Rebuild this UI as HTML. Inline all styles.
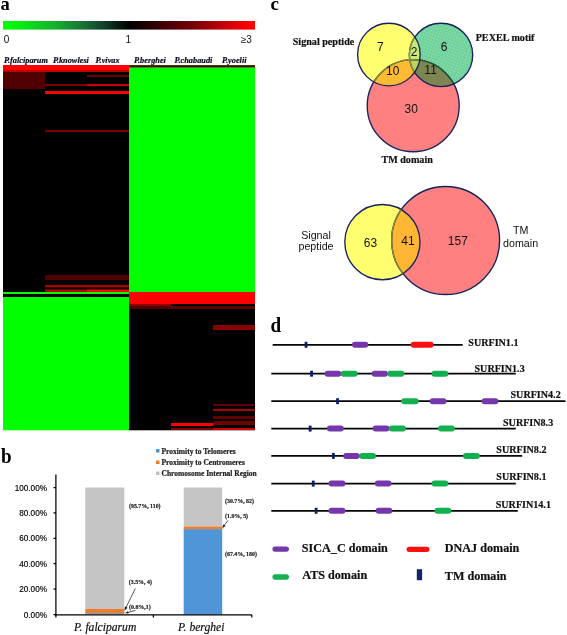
<!DOCTYPE html>
<html><head><meta charset="utf-8"><title>Figure</title>
<style>
html,body{margin:0;padding:0;background:#fff;}
svg{display:block;}
.bs{font-family:"Liberation Serif",serif;font-weight:bold;}
.bis{font-family:"Liberation Serif",serif;font-weight:bold;font-style:italic;}
.is{font-family:"Liberation Serif",serif;font-style:italic;}
.sa{font-family:"Liberation Sans",sans-serif;}
</style></head>
<body>
<svg width="567" height="635" viewBox="0 0 567 635">
<defs>
<linearGradient id="sc" x1="0" x2="1" y1="0" y2="0">
<stop offset="0" stop-color="#00ff00"/>
<stop offset="0.05" stop-color="#04f408"/>
<stop offset="0.2" stop-color="#14b42c"/>
<stop offset="0.3" stop-color="#1a7c36"/>
<stop offset="0.4" stop-color="#10402a"/>
<stop offset="0.5" stop-color="#000000"/>
<stop offset="0.75" stop-color="#740008"/>
<stop offset="0.9" stop-color="#d40008"/>
<stop offset="0.98" stop-color="#ff0000"/>
<stop offset="1" stop-color="#ff0000"/>
</linearGradient>
<pattern id="gd" width="3" height="3" patternUnits="userSpaceOnUse" patternTransform="rotate(20)">
<rect width="3" height="3" fill="#72d29e"/><rect x="1" y="1" width="1" height="1" fill="#98e8b0"/>
</pattern>
</defs>
<rect width="567" height="635" fill="#fff"/>

<!-- panel a -->
<g id="pa">
<text transform="translate(0.6 10) scale(0.97 1)" class="bs" font-size="19.2">a</text>
<rect x="3" y="21" width="252" height="8.6" fill="url(#sc)"/>
<g class="sa" font-size="10" fill="#111">
<text x="3.8" y="43.4">0</text>
<text x="125.5" y="43.4">1</text>
<text x="240.7" y="43.4">≥3</text>
</g>
<g class="bis" font-size="8.3" fill="#0a0a20" stroke="#0a0a20" stroke-width="0.2">
<text x="4" y="62.5">P.falciparum</text>
<text x="52.9" y="62.5">P.knowlesi</text>
<text x="95.6" y="62.5">P.vivax</text>
<text x="134" y="62.5">P.berghei</text>
<text x="174.5" y="62.5">P.chabaudi</text>
<text x="222" y="62.5">P.yoelii</text>
</g>
<!-- heatmap -->
<g>
<rect x="3" y="65" width="126" height="227" fill="#000"/>
<rect x="129" y="65" width="126" height="227" fill="#00ff00"/>
<rect x="3" y="292" width="126" height="138.3" fill="#00ff00"/>
<rect x="129" y="292" width="126" height="138.3" fill="#000"/>
<!-- top-left details -->
<rect x="3" y="65" width="126" height="5" fill="#ff0000"/>
<rect x="3" y="70" width="126" height="2" fill="#c00000"/>
<rect x="3" y="72" width="42" height="17" fill="#500000"/>
<rect x="87" y="75" width="42" height="2" fill="#700000"/>
<rect x="45" y="84" width="42" height="2" fill="#800000"/>
<rect x="87" y="84" width="42" height="2" fill="#d00000"/>
<rect x="45" y="91" width="84" height="3" fill="#ff0000"/>
<rect x="45" y="130" width="84" height="2" fill="#800000"/>
<rect x="45" y="275" width="84" height="5" fill="#500000"/>
<rect x="45" y="284.9" width="84" height="2.4" fill="#a80000"/>
<rect x="45" y="289.4" width="42" height="2.6" fill="#b00000"/>
<rect x="87" y="289.4" width="42" height="2.6" fill="#ff0000"/>
<rect x="3" y="292" width="126" height="2" fill="#00ff00"/>
<rect x="3" y="294" width="126" height="3" fill="#000"/>
<!-- top right -->
<rect x="129" y="65.2" width="126" height="2.2" fill="#580018"/>
<!-- bottom right -->
<rect x="129" y="292" width="126" height="12" fill="#ff0000"/>
<rect x="129" y="304" width="42" height="2" fill="#900000"/>
<rect x="129" y="306" width="42" height="3" fill="#500000"/>
<rect x="171" y="306" width="84" height="3" fill="#600000"/>
<rect x="213" y="325" width="42" height="5" fill="#8b0000"/>
<rect x="213" y="404" width="42" height="2" fill="#600000"/>
<rect x="213" y="409" width="42" height="2" fill="#b00000"/>
<rect x="213" y="416" width="42" height="3" fill="#600000"/>
<rect x="213" y="421" width="42" height="4" fill="#700000"/>
<rect x="213" y="428" width="42" height="2" fill="#d00000"/>
<rect x="171" y="423" width="42" height="3" fill="#ff0000"/>
<rect x="171" y="428" width="42" height="2" fill="#800000"/>
</g>
</g>

<!-- panel b -->
<g id="pb">
<text transform="translate(1.1 462.9) scale(0.93 1)" class="bs" font-size="20.6">b</text>
<!-- legend -->
<rect x="156" y="449" width="3.5" height="3.5" fill="#5095d8"/>
<rect x="156" y="460.5" width="3.5" height="3.5" fill="#f07e28"/>
<rect x="156" y="471.5" width="3.5" height="3.5" fill="#bfbfbf"/>
<g class="bs" font-size="7.5" fill="#222" stroke="#222" stroke-width="0.2">
<text x="161.5" y="453.5">Proximity to Telomeres</text>
<text x="161.5" y="464.9">Proximity to Centromeres</text>
<text x="161.5" y="476">Chromosome Internal Region</text>
</g>
<!-- bars -->
<rect x="85.3" y="487.5" width="39" height="121.5" fill="#c5c5c5"/>
<rect x="85.3" y="609" width="39" height="4.5" fill="#f07e28"/>
<rect x="85.3" y="613.3" width="39" height="1" fill="#5095d8"/>
<rect x="183.7" y="487.5" width="38.5" height="39" fill="#c5c5c5"/>
<rect x="183.7" y="526.5" width="38.5" height="2.6" fill="#f07e28"/>
<rect x="183.7" y="529.1" width="38.5" height="85.5" fill="#5095d8"/>
<!-- axes -->
<g stroke="#000" stroke-width="1.25" fill="none">
<path d="M55.9 474.5V615.4"/>
<path d="M55.3 614.9H252"/>
<path d="M53.5 487.5H56M53.5 512.9H56M53.5 538.3H56M53.5 563.7H56M53.5 589.1H56M53.5 614.5H56"/>
<path d="M55.9 614.9V617.6M153.4 614.9V617.6M251.8 614.9V617.6"/>
</g>
<g class="sa" font-size="8.2" fill="#000" stroke="#000" stroke-width="0.15" text-anchor="end">
<text x="47" y="490.5">100.00%</text>
<text x="47" y="515.9">80.00%</text>
<text x="47" y="541.3">60.00%</text>
<text x="47" y="566.7">40.00%</text>
<text x="47" y="592.1">20.00%</text>
<text x="47" y="617.5">0.00%</text>
</g>
<g class="is" font-size="11.6" fill="#111" stroke="#111" stroke-width="0.2">
<text x="74" y="631.3">P. falciparum</text>
<text x="178" y="631.3">P. berghei</text>
</g>
<g class="bs" font-size="5.9" fill="#222" stroke="#222" stroke-width="0.2">
<text x="129" y="508">(95.7%, 110)</text>
<text x="128.8" y="584.2">(3.5%, 4)</text>
<text x="129" y="609.3">(0.8%,1)</text>
<text x="225" y="502.7">(30.7%, 82)</text>
<text x="225" y="518">(1.9%, 5)</text>
<text x="225" y="556.2">(67.4%, 180)</text>
</g>
<g stroke="#111" stroke-width="0.7" fill="#111">
<path d="M135.3 588.5L125.6 608.4"/>
<path d="M124.7 610.3l0.4-3.6 2.2 1.1z" stroke-width="0.3"/>
<path d="M135.5 610.5L127 612.6"/>
<path d="M125.3 613.1l2.6-1.7 0.5 1.9z" stroke-width="0.3"/>
<path d="M228 520.3L223.6 526.3"/>
<path d="M222.5 527.8l1-3.2 1.8 1.4z" stroke-width="0.3"/>
</g>
</g>

<!-- panel c -->
<g id="pc">
<text transform="translate(270.6 10) scale(0.97 1)" class="bs" font-size="19.6">c</text>
<!-- venn 1 -->
<clipPath id="cy1"><circle cx="388.9" cy="54.5" r="31.3"/></clipPath>
<clipPath id="cg1"><circle cx="441" cy="54.9" r="31.7"/></clipPath>
<clipPath id="cr1"><circle cx="413.2" cy="105.7" r="46"/></clipPath>
<circle cx="413.2" cy="105.7" r="46" fill="#ff8080"/>
<circle cx="388.9" cy="54.5" r="31.3" fill="#ffff70"/>
<circle cx="441" cy="54.9" r="31.7" fill="url(#gd)"/>
<g clip-path="url(#cr1)">
<circle cx="388.9" cy="54.5" r="31.3" fill="#ffbb33"/>
<circle cx="441" cy="54.9" r="31.7" fill="#7d8652"/>
</g>
<g clip-path="url(#cy1)">
<circle cx="441" cy="54.9" r="31.7" fill="#c6ea74"/>
<g clip-path="url(#cr1)"><circle cx="441" cy="54.9" r="31.7" fill="#c0d05c"/></g>
</g>
<g stroke-width="1.35" fill="none">
<circle cx="413.2" cy="105.7" r="46" stroke="#16215e"/>
<g clip-path="url(#cg1)"><circle cx="413.2" cy="105.7" r="46" stroke="#1f5a30"/></g>
<circle cx="441" cy="54.9" r="31.7" stroke="#16215e"/>
<g clip-path="url(#cy1)"><circle cx="413.2" cy="105.7" r="46" stroke="#8a8c34"/>
<circle cx="441" cy="54.9" r="31.7" stroke="#8a9a44"/></g>
<circle cx="388.9" cy="54.5" r="31.3" stroke="#16215e"/>
</g>
<g class="sa" font-size="12" fill="#111" text-anchor="middle">
<text x="380.3" y="50.8">7</text>
<text x="414.2" y="56.2">2</text>
<text x="444" y="51.3">6</text>
<text x="392.8" y="74.8">10</text>
<text x="430.6" y="74">11</text>
<text x="411.2" y="113">30</text>
</g>
<g class="bs" font-size="10.15" fill="#111" stroke="#111" stroke-width="0.2">
<text x="292.7" y="44.9">Signal peptide</text>
<text x="475.7" y="40.6">PEXEL motif</text>
<text x="381.4" y="163">TM domain</text>
</g>
<!-- venn 2 -->
<clipPath id="cr2"><circle cx="445.6" cy="240.5" r="54"/></clipPath>
<circle cx="382.4" cy="242.1" r="37.6" fill="#ffff70"/>
<circle cx="445.6" cy="240.5" r="54" fill="#ff8080"/>
<g clip-path="url(#cr2)"><circle cx="382.4" cy="242.1" r="37.6" fill="#ffb733"/></g>
<clipPath id="cy2"><circle cx="382.4" cy="242.1" r="37.6"/></clipPath>
<g stroke="#16215e" stroke-width="1.35" fill="none">
<circle cx="445.6" cy="240.5" r="54"/>
<circle cx="382.4" cy="242.1" r="37.6"/>
</g>
<g clip-path="url(#cy2)"><circle cx="445.6" cy="240.5" r="54" fill="none" stroke="#8a8a3a" stroke-width="1.3"/></g>
<g class="sa" font-size="12" fill="#111" text-anchor="middle">
<text x="370.4" y="246.8">63</text>
<text x="408" y="245.3">41</text>
<text x="457.8" y="244.8">157</text>
</g>
<g class="sa" font-size="10.7" fill="#111" text-anchor="middle">
<text x="316" y="238.5">Signal</text>
<text x="316" y="250.3">peptide</text>
<text x="520.6" y="234.4">TM</text>
<text x="520.6" y="246.6">domain</text>
</g>
</g>

<!-- panel d -->
<g id="pd">
<text transform="translate(270.6 332.1) scale(0.93 1)" class="bs" font-size="20.6">d</text>
<g stroke="#050505" stroke-width="1.7">
<path d="M272.7 344.8H462.7"/>
<path d="M271.3 373.7H515.8"/>
<path d="M271.3 401.2H565.5"/>
<path d="M271.3 428.6H515.8"/>
<path d="M271.3 455.9H522.2"/>
<path d="M271.3 483.6H515.8"/>
<path d="M271.3 510.8H517.8"/>
</g>
<g fill="#0e1f64">
<rect x="304.65" y="341.8" width="2.8" height="6"/>
<rect x="310.15" y="370.7" width="2.8" height="6"/>
<rect x="336.15" y="398.2" width="2.8" height="6"/>
<rect x="308.75" y="425.6" width="2.8" height="6"/>
<rect x="331.95" y="452.90000000000003" width="2.8" height="6"/>
<rect x="311.85" y="480.6" width="2.8" height="6"/>
<rect x="314.75" y="507.8" width="2.8" height="6"/>
</g>
<g stroke-width="6" stroke-linecap="round" fill="none">
<g stroke="#7636ac">
<path d="M355 344.8H365.3"/>
<path d="M327.6 373.7H338.3M374.7 373.7H384.8"/>
<path d="M432.7 401.2H443.5M484.6 401.2H495.4"/>
<path d="M329.9 428.6H340.8M375.6 428.6H386.5"/>
<path d="M346.2 455.9H356.9"/>
<path d="M331.5 483.6H342.5M377.8 483.6H388.5"/>
<path d="M331.5 510.8H342.5M378.7 510.8H389.3"/>
</g>
<g stroke="#13b050">
<path d="M343.7 373.7H354.6M390.2 373.7H401.3M434.5 373.7H445.3"/>
<path d="M404.2 401.2H415.6"/>
<path d="M391.9 428.6H402.9M441 428.6H451.8"/>
<path d="M362.3 455.9H373M466 455.9H476.8"/>
<path d="M434.5 483.6H445.3"/>
<path d="M437.5 510.8H448.3"/>
</g>
<g stroke="#ff1010">
<path d="M413.6 344.8H430.6"/>
</g>
</g>
<g class="bs" font-size="10.1" fill="#111" stroke="#111" stroke-width="0.2">
<text x="468.3" y="345.8">SURFIN1.1</text>
<text x="474.5" y="371.8">SURFIN1.3</text>
<text x="510.5" y="398.0">SURFIN4.2</text>
<text x="503" y="426.2">SURFIN8.3</text>
<text x="496.3" y="452.9">SURFIN8.2</text>
<text x="496.3" y="479.7">SURFIN8.1</text>
<text x="495.7" y="507.7">SURFIN14.1</text>
</g>
<!-- legend -->
<g stroke-width="5.3" stroke-linecap="round" fill="none">
<path d="M275.1 549.1H286.3" stroke="#7636ac"/>
<path d="M275.1 577H286.3" stroke="#13b050"/>
<path d="M409.2 549.3H426.8" stroke="#ff1010"/>
</g>
<rect x="416.8" y="569.2" width="5.3" height="11" fill="#12256b"/>
<g class="bs" font-size="12.15" fill="#111" stroke="#111" stroke-width="0.2">
<text x="301.8" y="552.4">SICA_C domain</text>
<text x="302.3" y="579.3">ATS domain</text>
<text x="444.8" y="552.2">DNAJ domain</text>
<text x="444.8" y="580">TM domain</text>
</g>
</g>
</svg>
</body></html>
